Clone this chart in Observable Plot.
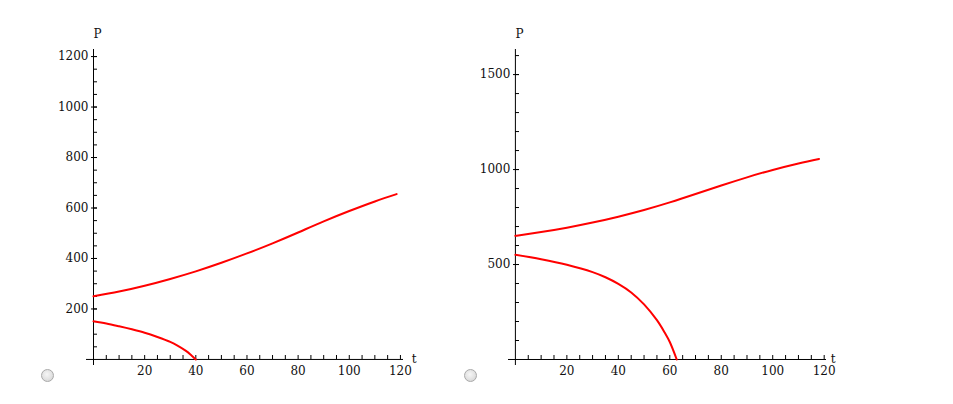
<!DOCTYPE html>
<html><head><meta charset="utf-8">
<script src="https://cdn.jsdelivr.net/npm/d3@7"></script>
<script src="https://cdn.jsdelivr.net/npm/@observablehq/plot@0.6"></script>
<style>
body{margin:0;background:#fff;}
#wrap{position:relative;width:953px;height:404px;overflow:hidden;background:#fff;}
#wrap svg{position:absolute;top:0;overflow:visible;}
.radio{position:absolute;width:11px;height:11px;border-radius:50%;border:1px solid #a9a9a9;background:radial-gradient(circle at 45% 40%, #f6f6f6 0%, #e2e2e2 55%, #cdcdcd 100%);}
</style></head><body><div id="wrap"></div>
<script>
// ---- data ----
const leftUpperT = [0,10,20,30,40,50,60,70,80,90,100,110,118.5];
const leftUpperP = [250,269,292,319,349,383,420,460,503,547,588,626,655];
const leftLowerT = [0,5,10,15,20,25,30,33,36,38,40];
const leftLowerP = [151,142.5,131.5,119.5,106,89,69.5,54,35,19,0];

const rightUpperT = [0,10,20,30,40,50,60,70,80,90,100,110,118];
const rightUpperP = [651,671,694,721,752,787,827,871,916,959,998,1032,1056];
const rightLowerT = [0,10,20,30,35,40,45,50,55,58,60,62.7];
const rightLowerP = [551,528,499,460,433,398,353,290,207,142,92,0];

// ---- ticks ----
const xMinorTicks = [5,10,15,20,25,30,35,40,45,50,55,60,65,70,75,80,85,90,95,100,105,110,115,120];
const xTickLabels = [20,40,60,80,100,120];
const leftYMinor = [50,100,150,200,250,300,350,400,450,500,550,600,650,700,750,800,850,900,950,1000,1050,1100,1150,1200];
const leftYLabels = [200,400,600,800,1000,1200];
const rightYMinor = [100,200,300,400,500,600,700,800,900,1000,1100,1200,1300,1400,1500,1600];
const rightYLabels = [500,1000,1500];

const font = "DejaVu Serif";
const red = "#ff0000";
const ink = "#111";

function toRows(T, P){ return T.map((t,i)=>({t, P:P[i]})); }

function panel(o){
  return Plot.plot({
    width: o.width, height: 404,
    marginLeft: o.marginLeft, marginRight: o.marginRight,
    marginTop: 49, marginBottom: 39,
    style: {fontFamily: font, fontSize: "12px", background: "transparent", color: "#000"},
    x: {domain: o.xDomain},
    y: {domain: o.yDomain},
    marks: [
      Plot.ruleY([0], {stroke: "#000", strokeWidth: 1}),
      Plot.ruleX([0], {stroke: "#000", strokeWidth: 1}),
      Plot.axisX(xMinorTicks, {anchor: "bottom", tickSize: 4, dy: -10, tickFormat: () => "", label: null, stroke: "#000"}),
      Plot.axisY(o.yMinor, {anchor: "left", tickSize: 4, dx: o.tickDx, tickFormat: () => "", label: null, stroke: "#000"}),
      Plot.axisY(o.yLabels, {anchor: "left", tickSize: 6, dx: o.tickDx, tickFormat: () => "", label: null, stroke: "#000"}),
      Plot.text(xTickLabels, {x: d => d, y: 0, dy: 12, text: d => String(d), fontFamily: font, fontSize: 12, fill: ink}),
      Plot.text(o.yLabels, {x: 0, y: d => d, dx: -5, textAnchor: "end", text: d => String(d), fontFamily: font, fontSize: 12, fill: ink}),
      Plot.text(["P"], {frameAnchor: "top-left", dx: o.pDx, dy: -20, text: d => d, fontFamily: font, fontSize: 12, fill: ink}),
      Plot.text(["t"], {frameAnchor: "bottom-right", dx: o.tDx, dy: -3, text: d => d, fontFamily: font, fontSize: 12, fill: ink}),
      Plot.line(toRows(o.upperT, o.upperP), {x: "t", y: "P", stroke: red, strokeWidth: 2, curve: "natural"}),
      Plot.line(toRows(o.lowerT, o.lowerP), {x: "t", y: "P", stroke: red, strokeWidth: 2, curve: "catmull-rom"})
    ]
  });
}

const wrap = document.getElementById("wrap");

const left = panel({
  width: 470, marginLeft: 86, marginRight: 67,
  xDomain: [-2.74, 121.2], yDomain: [-24, 1228],
  yMinor: leftYMinor, yLabels: leftYLabels, tickDx: 11, pDx: 7, tDx: 13,
  upperT: leftUpperT, upperP: leftUpperP, lowerT: leftLowerT, lowerP: leftLowerP
});
left.style.left = "0px";
wrap.appendChild(left);

const right = panel({
  width: 483, marginLeft: 38, marginRight: 127,
  xDomain: [-2.68, 120.9], yDomain: [-31.6, 1632],
  yMinor: rightYMinor, yLabels: rightYLabels, tickDx: 11, pDx: 7, tDx: 9,
  upperT: rightUpperT, upperP: rightUpperP, lowerT: rightLowerT, lowerP: rightLowerP
});
right.style.left = "470px";
wrap.appendChild(right);

// radio-button widgets below each plot
[[41, 369], [464, 369]].forEach(([l, t]) => {
  const r = document.createElement("div");
  r.className = "radio";
  r.style.left = l + "px";
  r.style.top = t + "px";
  wrap.appendChild(r);
});
</script>
</body></html>
